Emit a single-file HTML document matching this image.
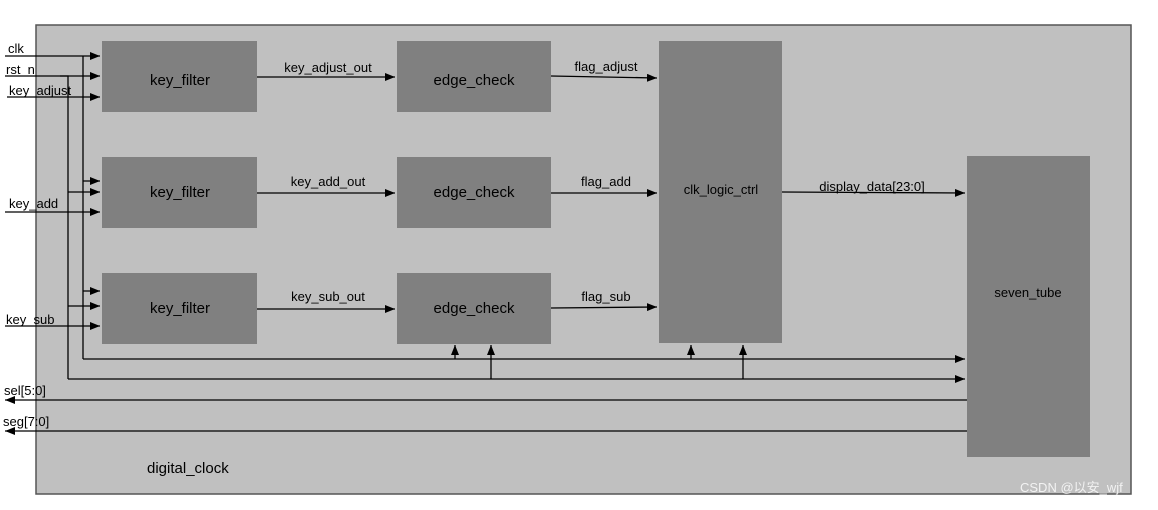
<!DOCTYPE html>
<html><head><meta charset="utf-8"><style>
body{margin:0;background:#fff;width:1158px;height:505px;overflow:hidden}
svg text{font-family:"Liberation Sans","Noto Sans CJK SC",sans-serif;fill:#000}
</style></head><body>
<svg width="1158" height="505" xmlns="http://www.w3.org/2000/svg">
<defs><marker id="a" markerWidth="10" markerHeight="8" refX="10" refY="4" orient="auto" markerUnits="userSpaceOnUse"><path d="M0,0 L10,4 L0,8 z" fill="#000"/></marker></defs>
<rect x="36" y="25" width="1095" height="469" fill="#c0c0c0" stroke="#555" stroke-width="1.5"/>
<g fill="#808080">
<rect x="102" y="41" width="155" height="71"/><rect x="102" y="157" width="155" height="71"/><rect x="102" y="273" width="155" height="71"/>
<rect x="397" y="41" width="154" height="71"/><rect x="397" y="157" width="154" height="71"/><rect x="397" y="273" width="154" height="71"/>
<rect x="659" y="41" width="123" height="302"/><rect x="967" y="156" width="123" height="301"/>
</g>
<g font-size="15" text-anchor="middle">
<text x="180" y="85">key_filter</text><text x="180" y="197">key_filter</text><text x="180" y="313">key_filter</text>
<text x="474" y="85">edge_check</text><text x="474" y="197">edge_check</text><text x="474" y="313">edge_check</text>
</g>
<g font-size="13" text-anchor="middle">
<text x="721" y="194">clk_logic_ctrl</text><text x="1028" y="297">seven_tube</text>
<text x="328" y="72">key_adjust_out</text><text x="328" y="186">key_add_out</text><text x="328" y="301">key_sub_out</text>
<text x="606" y="71">flag_adjust</text><text x="606" y="186">flag_add</text><text x="606" y="301">flag_sub</text>
<text x="872" y="191">display_data[23:0]</text>
</g>
<g font-size="13">
<text x="8" y="53">clk</text><text x="6" y="74">rst_n</text><text x="9" y="95">key_adjust</text>
<text x="9" y="208">key_add</text><text x="6" y="324">key_sub</text>
<text x="4" y="395">sel[5:0]</text><text x="3" y="426">seg[7:0]</text>
<text x="147" y="473" font-size="15">digital_clock</text>
</g>
<text x="1020" y="492" font-size="13" style="fill:#fff;opacity:.8">CSDN @以安_wjf</text>
<g stroke="#000" stroke-width="1.3" fill="none" marker-end="url(#a)">
<line x1="5" y1="56" x2="100" y2="56"/><line x1="5" y1="76" x2="100" y2="76"/><line x1="7" y1="97" x2="100" y2="97"/>
<line x1="83" y1="181" x2="100" y2="181"/><line x1="68" y1="192" x2="100" y2="192"/><line x1="5" y1="212" x2="100" y2="212"/>
<line x1="83" y1="291" x2="100" y2="291"/><line x1="68" y1="306" x2="100" y2="306"/><line x1="5" y1="326" x2="100" y2="326"/>
<line x1="257" y1="77" x2="395" y2="77"/><line x1="257" y1="193" x2="395" y2="193"/><line x1="257" y1="309" x2="395" y2="309"/>
<line x1="551" y1="76" x2="657" y2="78"/><line x1="551" y1="193" x2="657" y2="193"/><line x1="551" y1="308" x2="657" y2="307"/>
<line x1="782" y1="192" x2="965" y2="193"/>
<line x1="83" y1="359" x2="965" y2="359"/><line x1="68" y1="379" x2="965" y2="379"/>
<line x1="455" y1="359" x2="455" y2="345"/><line x1="491" y1="379" x2="491" y2="345"/>
<line x1="691" y1="359" x2="691" y2="345"/><line x1="743" y1="379" x2="743" y2="345"/>
<line x1="967" y1="400" x2="5" y2="400"/><line x1="967" y1="431" x2="5" y2="431"/>
</g>
<g stroke="#000" stroke-width="1.3" fill="none">
<polyline points="83,56 83,359"/><polyline points="60,76 68,76 68,379"/>
</g>
</svg>
</body></html>
